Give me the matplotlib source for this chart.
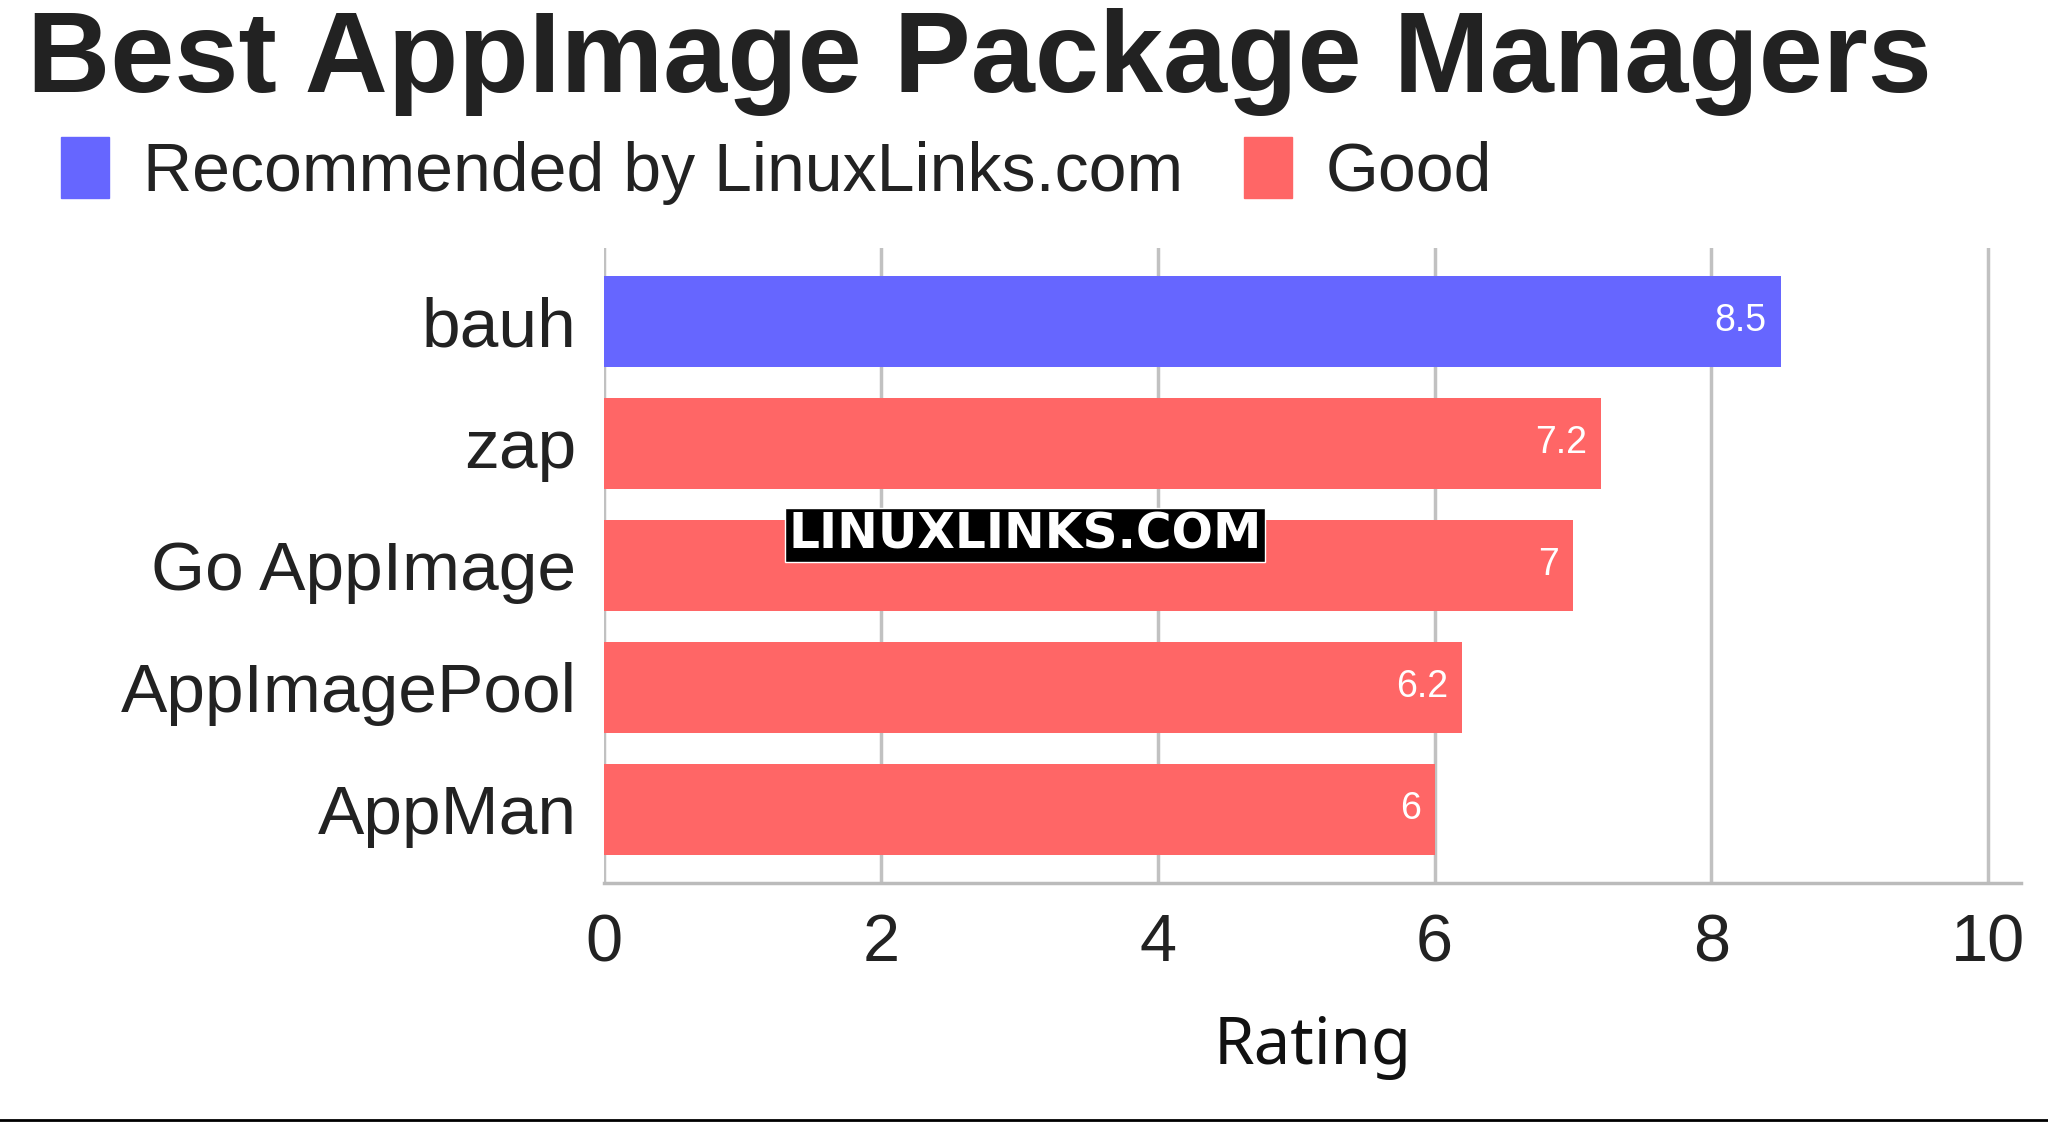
import matplotlib.pyplot as plt
from matplotlib.patches import Patch

names = ["bauh", "zap", "Go AppImage", "AppImagePool", "AppMan"]
ratings = [8.5, 7.2, 7, 6.2, 6]
groups = ["rec", "good", "good", "good", "good"]
colors = {"rec": "#6666ff", "good": "#ff6666"}
labels = ["8.5", "7.2", "7", "6.2", "6"]

plt.rcParams['font.family'] = ['Liberation Sans', 'DejaVu Sans']

fig = plt.figure(figsize=(20.48, 11.23), dpi=100)
ax = fig.add_axes([0.295, 0.214, 0.692, 0.565])

y = list(range(len(names)))[::-1]
ax.barh(y, ratings, height=0.74, color=[colors[g] for g in groups], zorder=3)
for yi, r, lab in zip(y, ratings, labels):
    ax.text(r - 0.1, yi, lab, ha="right", va="center", color="white", fontsize=27, zorder=4)

ax.set_xlim(0, 10.24)
ax.set_ylim(-0.6, 4.6)
ax.set_yticks(y)
ax.set_yticklabels(names, fontsize=50, color="#222222")
ax.set_xticks([0, 2, 4, 6, 8, 10])
ax.tick_params(axis="x", labelsize=48, colors="#222222", length=0, pad=22)
ax.tick_params(axis="y", length=0, pad=20)
ax.grid(axis="x", color="#bbbbbb", linewidth=2.5, zorder=5, alpha=0.9)
for s in ["top", "right", "left"]:
    ax.spines[s].set_visible(False)
ax.spines["bottom"].set_color("#bbbbbb")
ax.spines["bottom"].set_linewidth(2.5)
ax.set_xlabel("Rating", fontsize=47, family="Noto Sans", color="#111111", labelpad=28)

fig.text(0.013, 0.945, "Best AppImage Package Managers", fontsize=83, weight="bold",
         color="#222222", va="center")
fig.legend(handles=[Patch(color=colors["rec"], label="Recommended by LinuxLinks.com"),
                    Patch(color=colors["good"], label="Good")],
           loc="center left", bbox_to_anchor=(0.0, 0.848), ncol=2, frameon=False,
           fontsize=49, handlelength=0.7, handleheight=1.0, handletextpad=0.5,
           columnspacing=0.9, labelcolor="#222222")

ax.text(3.04, 2.25, "LINUXLINKS.COM", fontsize=35, weight="bold", family="DejaVu Sans",
        color="white", ha="center", va="center", zorder=6,
        bbox=dict(facecolor="black", edgecolor="white", pad=2))

fig.add_artist(plt.Line2D([0, 1], [0.003, 0.003], color="black", linewidth=2))

fig.savefig("out.png", dpi=100)
